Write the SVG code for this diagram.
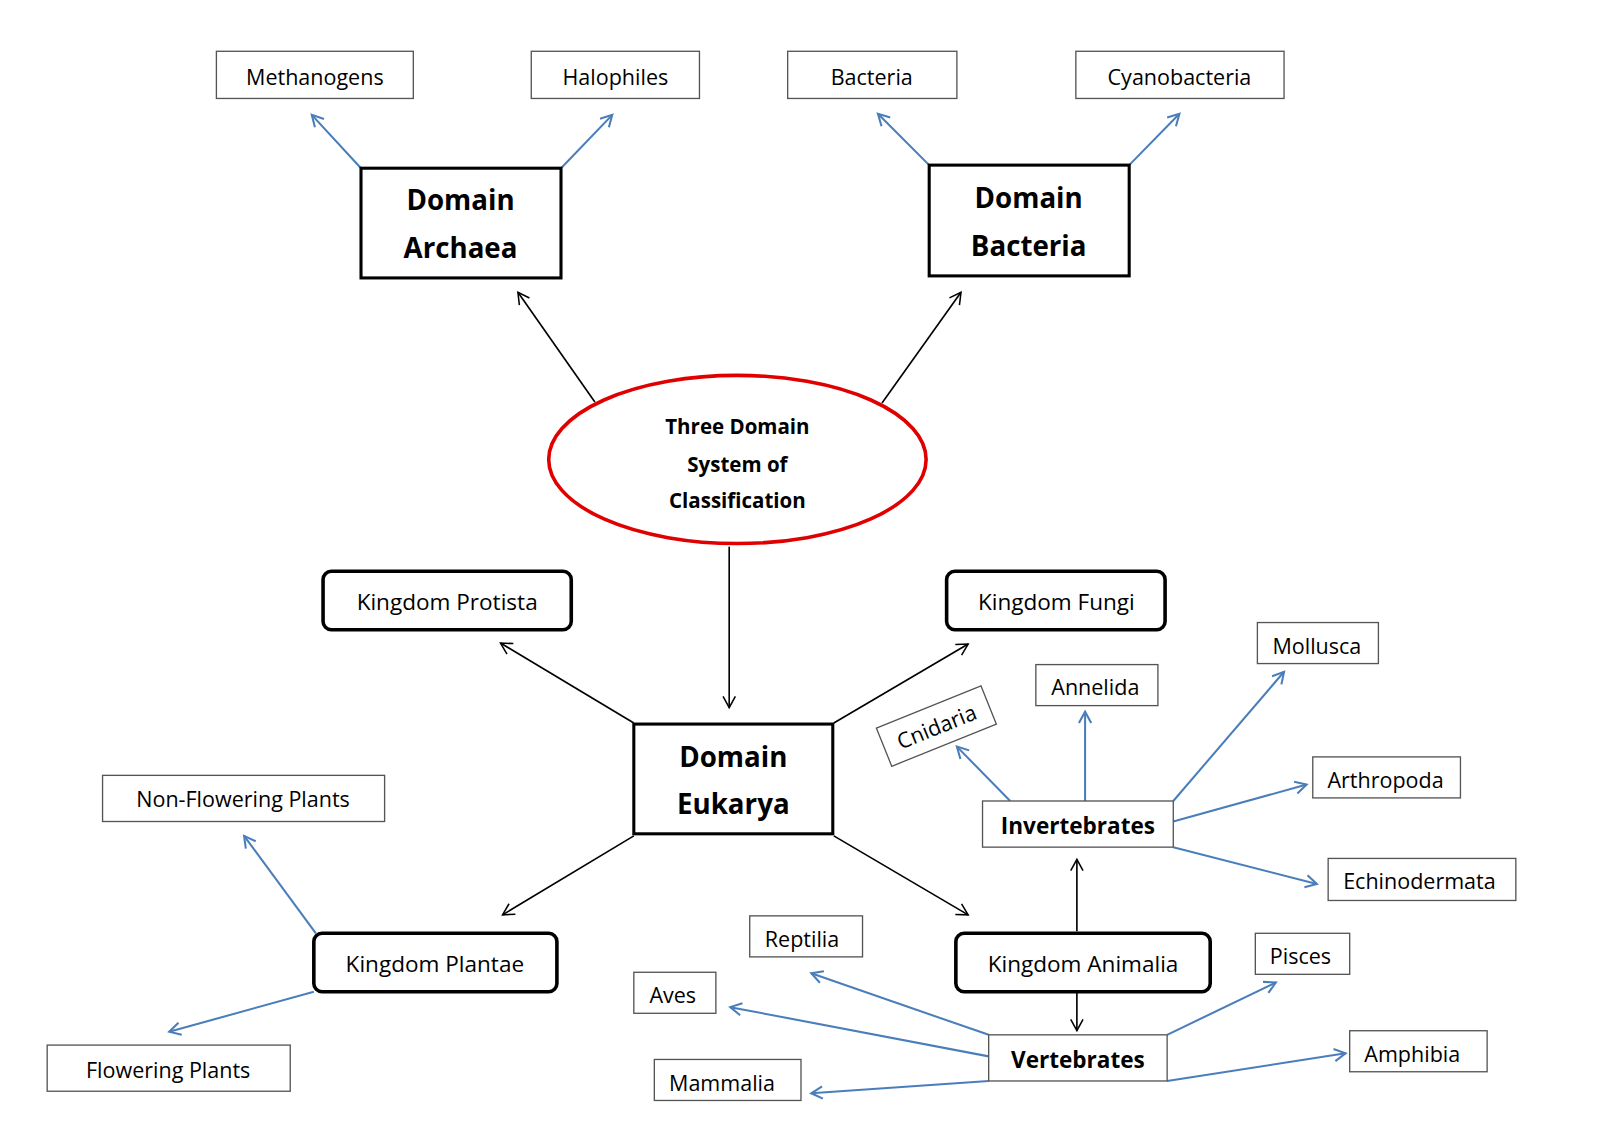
<svg xmlns="http://www.w3.org/2000/svg" width="1600" height="1131" viewBox="0 0 1600 1131">
<defs>
<marker id="ab" markerWidth="16" markerHeight="16" refX="13" refY="8" orient="auto" markerUnits="userSpaceOnUse"><path d="M2,2 L13,8 L2,14" fill="none" stroke="#000" stroke-width="1.5"/></marker>
<marker id="au" markerWidth="16" markerHeight="16" refX="13" refY="8" orient="auto" markerUnits="userSpaceOnUse"><path d="M2,2 L13,8 L2,14" fill="none" stroke="#4a7ebb" stroke-width="2"/></marker>
</defs>
<style>
text{font-family:"Open Sans","Liberation Sans",sans-serif;fill:#000;text-anchor:middle;dominant-baseline:central}
.s rect{fill:#fff;stroke:#555;stroke-width:1.3}
.s text{font-size:21px}
.d rect{fill:#fff;stroke:#000;stroke-width:3}
.d text{font-size:27px;font-weight:bold}
.k rect{fill:#fff;stroke:#000;stroke-width:3.5}
.k text{font-size:22px}
.b rect{fill:#fff;stroke:#555;stroke-width:1.3}
.b text{font-size:22px;font-weight:bold}
.cb line{stroke:#000;stroke-width:1.6;marker-end:url(#ab)}
.cu line{stroke:#4a7ebb;stroke-width:2;marker-end:url(#au)}
</style>
<g transform="scale(1.0256)">
<g id="connectors">
<g class="cb">
<line x1="580" y1="392" x2="505" y2="285"/>
<line x1="860" y1="393" x2="937" y2="285"/>
<line x1="711" y1="533" x2="711" y2="690"/>
<line x1="618" y1="705" x2="488" y2="627"/>
<line x1="813" y1="705" x2="944" y2="628"/>
<line x1="618" y1="815" x2="490" y2="892"/>
<line x1="813" y1="815" x2="944" y2="892"/>
<line x1="1050" y1="908" x2="1050" y2="838"/>
<line x1="1050" y1="967" x2="1050" y2="1005"/>
</g>
<g class="cu">
<line x1="352" y1="164" x2="304" y2="112"/>
<line x1="547" y1="164" x2="597" y2="112"/>
<line x1="906" y1="161" x2="856" y2="111"/>
<line x1="1101" y1="161" x2="1150" y2="111"/>
<line x1="308" y1="910" x2="238" y2="815"/>
<line x1="306" y1="967" x2="165" y2="1006"/>
<line x1="985" y1="781" x2="933" y2="728"/>
<line x1="1058" y1="781" x2="1058" y2="694"/>
<line x1="1144" y1="781" x2="1252" y2="655"/>
<line x1="1144" y1="801" x2="1274" y2="765"/>
<line x1="1144" y1="826" x2="1284" y2="862"/>
<line x1="964" y1="1009" x2="791" y2="949"/>
<line x1="964" y1="1030" x2="712" y2="982"/>
<line x1="964" y1="1054" x2="791" y2="1066"/>
<line x1="1138" y1="1009" x2="1244" y2="958"/>
<line x1="1138" y1="1054" x2="1312" y2="1027"/>
</g>
</g>
<g id="methanogens" class="s"><rect x="211" y="50" width="192" height="46"/><text x="307" y="75">Methanogens</text></g>
<g id="halophiles" class="s"><rect x="518" y="50" width="164" height="46"/><text x="600" y="75">Halophiles</text></g>
<g id="bacteria" class="s"><rect x="768" y="50" width="165" height="46"/><text x="850" y="75">Bacteria</text></g>
<g id="cyanobacteria" class="s"><rect x="1049" y="50" width="203" height="46"/><text x="1150" y="75">Cyanobacteria</text></g>
<g id="archaea" class="d"><rect x="352" y="164" width="195" height="107"/><text x="449" y="194">Domain</text><text x="449" y="241">Archaea</text></g>
<g id="dbacteria" class="d"><rect x="906" y="161" width="195" height="108"/><text x="1003" y="192">Domain</text><text x="1003" y="239">Bacteria</text></g>
<g id="center"><ellipse cx="719" cy="448" rx="184" ry="82" fill="#fff" stroke="#e00000" stroke-width="3.5"/>
<text x="719" y="415" font-size="20" font-weight="bold">Three Domain</text><text x="719" y="452" font-size="20" font-weight="bold">System of</text><text x="719" y="488" font-size="20" font-weight="bold">Classification</text></g>
<g id="protista" class="k"><rect x="315" y="557" width="242" height="57" rx="8"/><text x="436" y="586">Kingdom Protista</text></g>
<g id="fungi" class="k"><rect x="923" y="557" width="213" height="57" rx="8"/><text x="1030" y="586">Kingdom Fungi</text></g>
<g id="eukarya" class="d"><rect x="618" y="706" width="194" height="107"/><text x="715" y="737">Domain</text><text x="715" y="783">Eukarya</text></g>
<g id="nonflowering" class="s"><rect x="100" y="756" width="275" height="45"/><text x="237" y="779">Non-Flowering Plants</text></g>
<g id="flowering" class="s"><rect x="46" y="1019" width="237" height="45"/><text x="164" y="1043">Flowering Plants</text></g>
<g id="plantae" class="k"><rect x="306" y="910" width="237" height="57" rx="8"/><text x="424" y="939">Kingdom Plantae</text></g>
<g id="animalia" class="k"><rect x="932" y="910" width="248" height="57" rx="8"/><text x="1056" y="939">Kingdom Animalia</text></g>
<g id="cnidaria" class="s" transform="rotate(-22 913 708)"><rect x="858" y="688" width="110" height="40"/><text x="913" y="708">Cnidaria</text></g>
<g id="annelida" class="s"><rect x="1010" y="648" width="119" height="40"/><text x="1068" y="669">Annelida</text></g>
<g id="mollusca" class="s"><rect x="1226" y="607" width="118" height="40"/><text x="1284" y="629">Mollusca</text></g>
<g id="arthropoda" class="s"><rect x="1280" y="738" width="144" height="40"/><text x="1351" y="760">Arthropoda</text></g>
<g id="echinodermata" class="s"><rect x="1295" y="837" width="183" height="41"/><text x="1384" y="859">Echinodermata</text></g>
<g id="invertebrates" class="b"><rect x="958" y="781" width="186" height="45"/><text x="1051" y="805">Invertebrates</text></g>
<g id="vertebrates" class="b"><rect x="964" y="1009" width="174" height="45"/><text x="1051" y="1033">Vertebrates</text></g>
<g id="reptilia" class="s"><rect x="731" y="893" width="110" height="40"/><text x="782" y="915">Reptilia</text></g>
<g id="aves" class="s"><rect x="618" y="948" width="80" height="40"/><text x="656" y="970">Aves</text></g>
<g id="mammalia" class="s"><rect x="638" y="1033" width="143" height="40"/><text x="704" y="1055">Mammalia</text></g>
<g id="pisces" class="s"><rect x="1224" y="910" width="92" height="40"/><text x="1268" y="932">Pisces</text></g>
<g id="amphibia" class="s"><rect x="1316" y="1005" width="134" height="40"/><text x="1377" y="1027">Amphibia</text></g>
</g>
</svg>
